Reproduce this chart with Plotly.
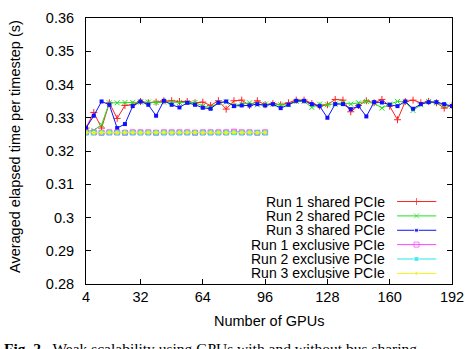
import plotly.graph_objects as go

gpus = list(range(4, 193, 4))
gpus_excl = list(range(4, 97, 4))

run1_shared = [0.3269, 0.3316, 0.3269, 0.3345, 0.3298, 0.3337, 0.3339, 0.3349, 0.3345, 0.3347,
               0.3351, 0.3351, 0.3349, 0.3349, 0.3345, 0.3347, 0.3337, 0.3351, 0.3326, 0.3351,
               0.3353, 0.3337, 0.3351, 0.3339, 0.3343, 0.3339, 0.3345, 0.3353, 0.3353, 0.3343,
               0.3335, 0.3339, 0.3355, 0.3353, 0.3318, 0.3337, 0.3351, 0.3345, 0.3355, 0.3335,
               0.3294, 0.3349, 0.3353, 0.3345, 0.3349, 0.3345, 0.3329, 0.3337]
run2_shared = [0.3259, 0.3262, 0.3279, 0.3345, 0.3345, 0.3346, 0.3346, 0.3347, 0.3347, 0.3346,
               0.3347, 0.3347, 0.3346, 0.3346, 0.3346, 0.3335, 0.3331, 0.3345, 0.3347, 0.3337,
               0.3341, 0.3345, 0.3339, 0.3341, 0.3341, 0.3339, 0.3339, 0.3349, 0.3349, 0.3331,
               0.3341, 0.3339, 0.3341, 0.3345, 0.3341, 0.3345, 0.3349, 0.3344, 0.3329, 0.3341,
               0.3349, 0.3347, 0.3322, 0.3339, 0.3349, 0.3345, 0.3337, 0.3335]
run3_shared = [0.3269, 0.3306, 0.3349, 0.3339, 0.3269, 0.3281, 0.3335, 0.3349, 0.3339, 0.3306,
               0.3351, 0.3339, 0.3331, 0.3345, 0.3339, 0.3330, 0.3327, 0.3345, 0.3349, 0.3335,
               0.3337, 0.3337, 0.3341, 0.3337, 0.3341, 0.3329, 0.3339, 0.3351, 0.3351, 0.3341,
               0.3335, 0.3300, 0.3341, 0.3341, 0.3326, 0.3335, 0.3304, 0.3347, 0.3346, 0.3339,
               0.3335, 0.3349, 0.3327, 0.3341, 0.3347, 0.3347, 0.3341, 0.3335]
run1_excl = [0.3256, 0.3256, 0.3255, 0.3256, 0.3256, 0.3255, 0.3256, 0.3256, 0.3256, 0.3255,
             0.3256, 0.3256, 0.3256, 0.3256, 0.3255, 0.3256, 0.3256, 0.3256, 0.3256, 0.3258,
             0.3256, 0.3256, 0.3255, 0.3256]
run2_excl = [0.3255, 0.3255, 0.3255, 0.3255, 0.3255, 0.3255, 0.3255, 0.3255, 0.3255, 0.3255,
             0.3255, 0.3255, 0.3255, 0.3255, 0.3255, 0.3255, 0.3255, 0.3255, 0.3255, 0.3255,
             0.3255, 0.3255, 0.3255, 0.3255]
run3_excl = [0.3256, 0.3255, 0.3256, 0.3256, 0.3255, 0.3256, 0.3256, 0.3255, 0.3256, 0.3256,
             0.3256, 0.3255, 0.3256, 0.3256, 0.3256, 0.3255, 0.3256, 0.3256, 0.3255, 0.3256,
             0.3256, 0.3256, 0.3255, 0.3256]

x_tickvals = [4, 32, 64, 96, 128, 160, 192]
y_tickvals = [0.28, 0.29, 0.30, 0.31, 0.32, 0.33, 0.34, 0.35, 0.36]
y_ticktext = ["0.28", "0.29", "0.3", "0.31", "0.32", "0.33", "0.34", "0.35", "0.36"]

series = [
    ("Run 1 shared PCIe", gpus, run1_shared, "#ff2020", dict(symbol="cross-thin", size=5, line=dict(width=1, color="#ff2020"))),
    ("Run 2 shared PCIe", gpus, run2_shared, "#20e020", dict(symbol="x-thin", size=5, line=dict(width=1, color="#20e020"))),
    ("Run 3 shared PCIe", gpus, run3_shared, "#1010ff", dict(symbol="square", size=4, color="#1010ff")),
    ("Run 1 exclusive PCIe", gpus_excl, run1_excl, "#ff40ff", dict(symbol="square-open", size=5, line=dict(width=1, color="#ff40ff"))),
    ("Run 2 exclusive PCIe", gpus_excl, run2_excl, "#20e8e8", dict(symbol="square", size=5, color="#20e8e8")),
    ("Run 3 exclusive PCIe", gpus_excl, run3_excl, "#f0f020", dict(symbol="circle", size=4, color="#f0f020")),
]

FONT = "Liberation Sans, Arial, sans-serif"
FS = 14.5

fig = go.Figure()
for name, xs, ys, col, mk in series:
    fig.add_trace(go.Scatter(x=xs, y=ys, mode="lines+markers", name=name,
                             line=dict(color=col, width=1), marker=mk, showlegend=False))

# custom gnuplot-style legend (text right-aligned, sample on the right)
leg_rows = [0.310, 0.256, 0.202, 0.148, 0.094, 0.040]
for (name, xs, ys, col, mk), ry in zip(series, leg_rows):
    m = dict(mk)
    m["size"] = [0, mk["size"], 0]
    fig.add_trace(go.Scatter(x=[0.850, 0.903, 0.957], y=[ry, ry, ry], mode="lines+markers",
                             xaxis="x2", yaxis="y2", line=dict(color=col, width=1),
                             marker=m, showlegend=False, hoverinfo="skip"))
    fig.add_annotation(x=0.823, y=ry, xref="paper", yref="paper", text=name,
                       showarrow=False, xanchor="right", yanchor="middle",
                       font=dict(family=FONT, size=14, color="black"))

axis_common = dict(showline=True, linecolor="black", linewidth=1, mirror="ticks",
                   ticks="inside", ticklen=5, tickcolor="black", showgrid=False,
                   zeroline=False, tickfont=dict(family=FONT, size=FS, color="black"))

fig.update_layout(
    width=474, height=349,
    margin=dict(l=86, r=15, t=10, b=65),
    paper_bgcolor="white", plot_bgcolor="white",
    xaxis=dict(range=[4, 192], tickvals=x_tickvals, ticklabelstandoff=0, **axis_common),
    yaxis=dict(range=[0.28, 0.36], tickvals=y_tickvals, ticktext=y_ticktext,
               ticklabelstandoff=8, **axis_common),
    xaxis2=dict(overlaying="x", range=[0, 1], visible=False, anchor="y2"),
    yaxis2=dict(overlaying="y", range=[0, 1], visible=False, anchor="x2"),
    showlegend=False,
)

fig.add_annotation(x=(273 - 86) / 373, y=(284 - 322) / 274, xref="paper", yref="paper",
                   text="Number of GPUs", showarrow=False, xanchor="center", yanchor="middle",
                   font=dict(family=FONT, size=FS, color="black"))

fig.add_annotation(x=(13.5 - 86) / 373, y=(284 - 142) / 274, xref="paper", yref="paper",
                   text="Averaged elapsed time per timestep (s)", textangle=-90,
                   showarrow=False, xanchor="center", yanchor="middle",
                   font=dict(family=FONT, size=FS, color="black"))

fig.add_annotation(x=(0 - 86) / 373, y=(284 - 340) / 274, xref="paper", yref="paper",
                   text="<b>Fig. 2.</b>  Weak scalability using GPUs with and without bus sharing",
                   showarrow=False, xanchor="left", yanchor="top",
                   font=dict(family="Liberation Serif, Times New Roman, serif", size=15.5, color="black"))

fig.write_html("out.html")
